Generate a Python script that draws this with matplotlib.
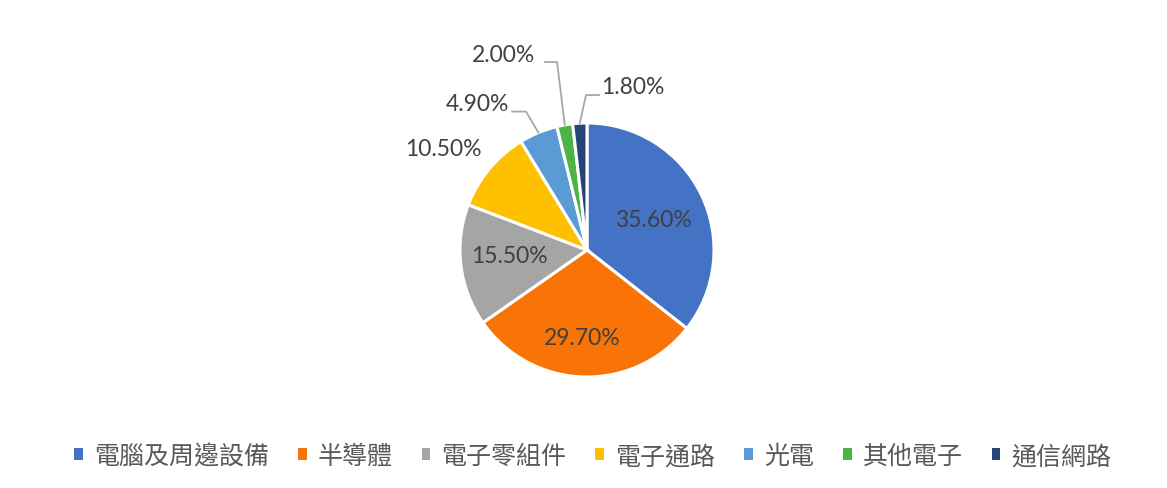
import numpy as np
import matplotlib.pyplot as plt
from matplotlib.patches import Patch

# 產業別比重 (%)
categories = ['電腦及周邊設備', '半導體', '電子零組件', '電子通路', '光電', '其他電子', '通信網路']
values = [35.6, 29.7, 15.5, 10.5, 4.9, 2.0, 1.8]
labels = ['%.2f%%' % v for v in values]

colors = ['#4472C4', '#F97306', '#A5A5A5', '#FFC000', '#5B9BD5', '#4CB444', '#264478']

plt.rcParams['font.family'] = ['Noto Sans CJK TC', 'DejaVu Sans']

fig = plt.figure(figsize=(11.67, 4.89), dpi=100)
cx, cy, r = 587, 251, 127
ax = fig.add_axes([(cx - r) / 1167, (489 - cy - r) / 489, 2 * r / 1167, 2 * r / 489])

wedges, _ = ax.pie(values, colors=colors, startangle=90, counterclock=False,
                   radius=1.0, wedgeprops=dict(edgecolor='white', linewidth=2.2))
ax.set_xlim(-1, 1)
ax.set_ylim(-1, 1)
ax.set_aspect('equal')
ax.axis('off')

# label positions (data coords), inside for big slices, outside for the rest
label_pos = [(0.52, 0.24), (-0.04, -0.69), (-0.61, -0.04), (-1.13, 0.80),
             (-0.86, 1.15), (-0.66, 1.54), (0.36, 1.29)]
# leader lines: (elbow, end) for the small slices
leaders = {4: ((-0.48, 1.09), (-0.59, 1.09)),
           5: ((-0.236, 1.48), (-0.33, 1.48)),
           6: ((-0.008, 1.22), (0.094, 1.22))}

for i, (w, lab) in enumerate(zip(wedges, labels)):
    x, y = label_pos[i]
    ax.text(x, y, lab, ha='center', va='center', fontsize=16.5,
            color='#404040', family=['Lato', 'DejaVu Sans'], clip_on=False)
    if i in leaders:
        mid = np.deg2rad((w.theta1 + w.theta2) / 2)
        p0 = (np.cos(mid) * 1.0, np.sin(mid) * 1.0)
        (ex, ey), (tx, ty) = leaders[i]
        ax.plot([p0[0], ex, tx], [p0[1], ey, ty], color='#A6A6A6', lw=1.3,
                clip_on=False)

handles = [Patch(facecolor=c, edgecolor='none') for c in colors]
fig.legend(handles, categories, loc='center', bbox_to_anchor=(0.508, 0.065), ncol=7,
           frameon=False, fontsize=18, labelcolor='#595959',
           handlelength=0.35, handleheight=0.35, handletextpad=0.45,
           columnspacing=1.15)

fig.savefig('out.png', dpi=100)
